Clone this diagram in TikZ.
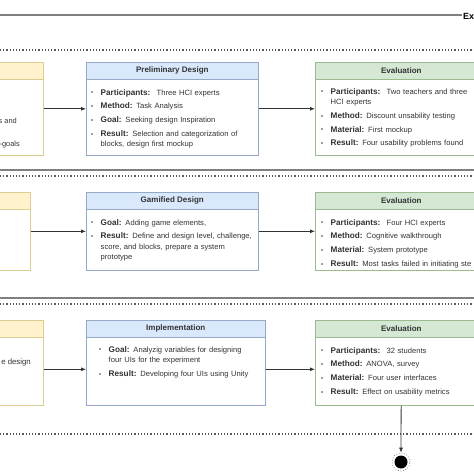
\documentclass[tikz,border=0pt]{standalone}
\usepackage{fontspec}
\setmainfont{Liberation Sans}
\usetikzlibrary{arrows.meta}

\definecolor{yelFill}{HTML}{FFF2CC}
\definecolor{yelLine}{HTML}{DCCD95}
\definecolor{bluFill}{HTML}{DAE8FC}
\definecolor{bluLine}{HTML}{93A9C6}
\definecolor{grnFill}{HTML}{D5E8D4}
\definecolor{grnLine}{HTML}{9BBB8E}
\definecolor{sepGray}{HTML}{7F7F7F}
\definecolor{txtGray}{HTML}{333333}

\newcommand{\cardline}[2]{\par\hangindent=9.5pt\hangafter=1\noindent\makebox[9.5pt][l]{\raisebox{0.3pt}{\fontsize{6}{6}\selectfont\textbullet}}{\fontsize{8.2}{10}\selectfont\bfseries #1} #2\par\vspace{3.2pt}}

\tikzset{
  card/.style={fill=white, line width=0.6pt, anchor=north west, inner sep=0pt, minimum width=172pt},
  head/.style={line width=0.6pt, anchor=north west, inner sep=0pt, minimum width=172pt, minimum height=16.5pt, text=txtGray, font=\fontsize{8}{9}\selectfont\bfseries},
  body/.style={anchor=north west, inner sep=0pt, text width=190pt, align=left, text=txtGray, font=\fontsize{7.6}{10.5}\selectfont},
  flow/.style={draw=txtGray, line width=0.8pt, -{Latex[length=5pt,width=4pt]}},
  sepline/.style={draw=sepGray, line width=1.4pt},
  dotline/.style={draw=black!65, line width=1.1pt, dash pattern=on 1.1pt off 2.1pt}
}

\begin{document}
\begin{tikzpicture}[x=1pt,y=-1pt]
  \useasboundingbox (0,0) rectangle (474,474);
  \clip (0,0) rectangle (474,474);

  % Separators
  \draw[sepline] (0,15) -- (462,15);
  \node[anchor=west, inner sep=0pt, font=\fontsize{9}{10}\selectfont\bfseries] (title) at (463,16.5) {Ex};
  \draw[dotline] (0,50) -- (474,50);
  \draw[sepline] (0,170) -- (474,170);
  \draw[dotline] (0,176) -- (474,176);
  \draw[sepline] (0,298) -- (474,298);
  \draw[dotline] (0,304) -- (474,304);
  \draw[dotline] (0,434) -- (474,434);

  % Row 1
  \node[card, draw=yelLine, minimum height=93pt] (plan1) at (-129,62) {};
  \node[head, draw=yelLine, fill=yelFill] (plan1Head) at (-129,62) {};
  \node[anchor=east, inner sep=0pt, text=txtGray, font=\fontsize{7.4}{8}\selectfont] (plan1a) at (17,121) {s and};
  \node[anchor=east, inner sep=0pt, text=txtGray, font=\fontsize{7.4}{8}\selectfont] (plan1b) at (20,145) {-goals};

  \node[card, draw=bluLine, minimum height=93pt] (pre) at (86,62) {};
  \node[head, draw=bluLine, fill=bluFill] (preHead) at (86,62) {Preliminary Design};
  \node[body] (preList) at (91,84.5) {%
    \cardline{Participants:}{\ Three HCI experts}
    \cardline{Method:}{Task Analysis}
    \cardline{Goal:}{Seeking design Inspiration}
    \cardline{Result:}{Selection and categorization of\newline blocks, design first mockup}};

  \node[card, draw=grnLine, minimum height=93pt] (eval1) at (315,62) {};
  \node[head, draw=grnLine, fill=grnFill] (eval1Head) at (315,62) {Evaluation};
  \node[body] (eval1List) at (321,83.5) {%
    \cardline{Participants:}{\ Two teachers and three\newline HCI experts}
    \cardline{Method:}{Discount unsability testing}
    \cardline{Material:}{First mockup}
    \cardline{Result:}{Four usability problems found}};

  \draw[flow] (plan1) -- (pre);
  \draw[flow] (pre) -- (eval1);

  % Row 2
  \node[card, draw=yelLine, minimum height=78pt] (plan2) at (-142,192) {};
  \node[head, draw=yelLine, fill=yelFill] (plan2Head) at (-142,192) {};

  \node[card, draw=bluLine, minimum height=78pt] (gam) at (86,192) {};
  \node[head, draw=bluLine, fill=bluFill] (gamHead) at (86,192) {Gamified Design};
  \node[body] (gamList) at (91,214.5) {%
    \cardline{Goal:}{Adding game elements,}
    \cardline{Result:}{Define and design level, challenge,\newline score, and blocks, prepare a system\newline prototype}};

  \node[card, draw=grnLine, minimum height=78pt] (eval2) at (315,192) {};
  \node[head, draw=grnLine, fill=grnFill] (eval2Head) at (315,192) {Evaluation};
  \node[body] (eval2List) at (321,214.5) {%
    \cardline{Participants:}{\ Four HCI experts}
    \cardline{Method:}{Cognitive walkthrough}
    \cardline{Material:}{System prototype}
    \cardline{Result:}{Most tasks failed in initiating ste}};

  \draw[flow] (plan2) -- (gam);
  \draw[flow] (gam) -- (eval2);

  % Row 3
  \node[card, draw=yelLine, minimum height=85pt] (plan3) at (-129,320) {};
  \node[head, draw=yelLine, fill=yelFill] (plan3Head) at (-129,320) {};
  \node[anchor=east, inner sep=0pt, text=txtGray, font=\fontsize{7.8}{8}\selectfont] (plan3a) at (31,362) {e design};

  \node[card, draw=bluLine, minimum width=179pt, minimum height=85pt] (imp) at (86,320) {};
  \node[head, draw=bluLine, fill=bluFill, minimum width=179pt] (impHead) at (86,320) {Implementation};
  \node[body] (impList) at (99,341.5) {%
    \cardline{Goal:}{Analyzig variables for designing\newline four UIs for the experiment}
    \cardline{Result:}{Developing four UIs using Unity}};

  \node[card, draw=grnLine, minimum height=85pt] (eval3) at (315,320) {};
  \node[head, draw=grnLine, fill=grnFill] (eval3Head) at (315,320) {Evaluation};
  \node[body] (eval3List) at (321,342.5) {%
    \cardline{Participants:}{\ 32 students}
    \cardline{Method:}{ANOVA, survey}
    \cardline{Material:}{Four user interfaces}
    \cardline{Result:}{Effect on usability metrics}};

  \draw[flow] ([yshift=-6.5pt]plan3.east) -- ([yshift=-6.5pt]imp.west);
  \draw[flow] ([yshift=-6.5pt]imp.east) -- ([yshift=-6.5pt]eval3.west);

  % End point
  \node[circle, draw=black!70, dotted, line width=0.6pt, minimum size=18pt, inner sep=0pt] (finishRing) at (401,462) {};
  \node[circle, fill=black, minimum size=13pt, inner sep=0pt] (finish) at (401,462) {};
  \draw[flow] (eval3) -- (finishRing.north);
\end{tikzpicture}
\end{document}
